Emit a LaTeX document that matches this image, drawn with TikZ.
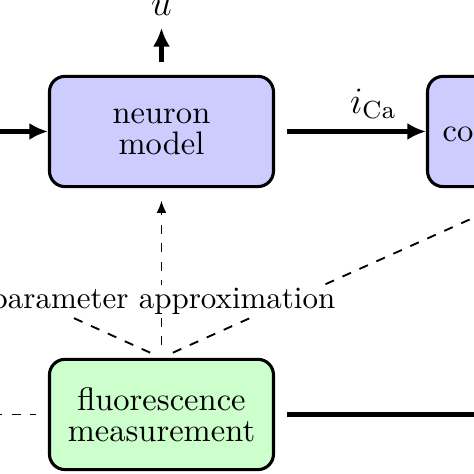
\documentclass[tikz,border=0pt]{standalone}
\usetikzlibrary{arrows.meta}
\begin{document}
\begin{tikzpicture}[
		block/.style={draw,line width=1pt,rounded corners=5pt,minimum width=2.54cm,minimum height=1.25cm,align=center,font=\fontsize{10.5}{10}\selectfont},
		sig/.style={ultra thick,-{Latex[length=6pt,width=5.5pt]}},
		dep/.style={semithick,dashed,-{Latex[length=4pt,width=3.2pt]}},
		lbl/.style={font=\fontsize{11.5}{12}\selectfont}]
		\useasboundingbox(0,0) rectangle (5.375,5.375);
		\clip(0,0) rectangle (5.375,5.375);
		\node[block,fill=blue!20](neuron) at(1.831,3.884){neuron\\model};
		\node[block,fill=blue!20](conc) at(6.118,3.884){};
		\node[anchor=base west,inner sep=0pt,font=\fontsize{10.5}{10}\selectfont](conctext) at(5.012,3.765){co};
		\node[block,fill=green!20](fluor) at(1.831,0.675){fluorescence\\measurement};
		\coordinate(in) at(-0.5,3.884);
		\coordinate(top) at(1.831,5.058);
		\coordinate(stim) at(-2.455,3.259);
		\coordinate(prev) at(-0.5,0.675);
		\coordinate(out) at(5.6,0.675);
		% signal path
		\draw[sig](in)--(neuron);
		\draw[sig,shorten <=4pt](neuron)--(top) node[lbl,above]{$u$};
		\draw[sig,shorten <=4pt](neuron)--(conc) node[lbl,pos=0.65,above]{$i_{\mathrm{Ca}}$};
		% fitting
		\draw[dep,shorten <=4pt,shorten >=4pt](fluor)--(neuron);
		\draw[dep,shorten <=4pt](fluor.north)--(conc.south);
		\draw[dep,shorten <=4pt](fluor.north)--(stim);
		\draw[semithick,dashed,shorten >=4pt](prev)--(fluor);
		\draw[ultra thick,shorten <=4pt](fluor)--(out);
		\node[fill=white,inner ysep=1pt](param) at(1.848,1.962){parameter approximation};
	\end{tikzpicture}
\end{document}
